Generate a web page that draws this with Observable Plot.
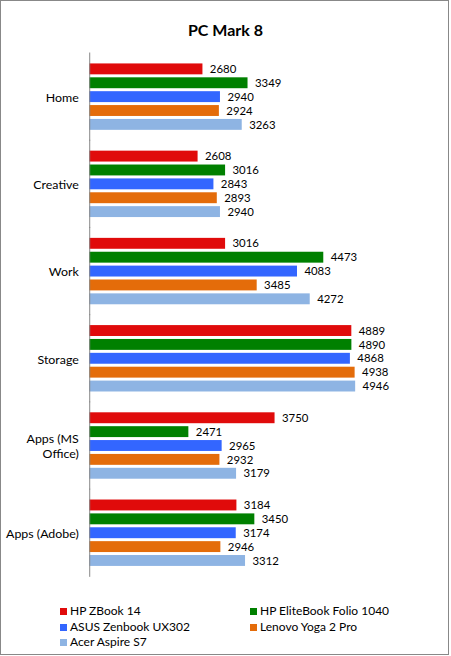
<!DOCTYPE html>
<html>
<head>
<meta charset="utf-8">
<script src="https://cdn.jsdelivr.net/npm/d3@7"></script>
<script src="https://cdn.jsdelivr.net/npm/@observablehq/plot@0.6"></script>
<style>
  html, body { margin: 0; padding: 0; background: #fff; }
  #frame { position: relative; width: 449px; height: 655px; border: 1px solid #888; box-sizing: border-box; font-family: Lato, "Open Sans", sans-serif; overflow: hidden; }
  #title { position: absolute; top: 19px; left: 0; width: 449px; text-align: center; font-weight: bold; font-size: 16px; color: #000; }
  #chart { position: absolute; top: -1px; left: 0px; }
  .leg { position: absolute; font-size: 12px; color: #000; line-height: 14px; white-space: nowrap; }
  .leg span.sw { display: inline-block; width: 7px; height: 7px; margin-right: 3px; vertical-align: 0px; }
</style>
</head>
<body>
<div id="frame">
  <div id="chart"></div>
  <div id="title">PC Mark 8</div>
  <div id="legend"></div>
</div>
<script>
const categories = ["Home", "Creative", "Work", "Storage", "Apps (MS Office)", "Apps (Adobe)"];
const series = ["HP ZBook 14", "HP EliteBook Folio 1040", "ASUS Zenbook UX302", "Lenovo Yoga 2 Pro", "Acer Aspire S7"];
const colors = ["#E00B0B", "#008000", "#3366FF", "#E46C0A", "#8EB4E3"];
const zbook14 = [2680, 2608, 3016, 4889, 3750, 3184];
const eliteBook = [3349, 3016, 4473, 4890, 2471, 3450];
const zenbook = [2940, 2843, 4083, 4868, 2965, 3174];
const yoga2Pro = [2924, 2893, 3485, 4938, 2932, 2946];
const aspireS7 = [3263, 2940, 4272, 4946, 3179, 3312];
const xDomain = [1000, 6000];

const seriesValues = [zbook14, eliteBook, zenbook, yoga2Pro, aspireS7];
const data = [];
categories.forEach((c, i) => {
  series.forEach((s, j) => {
    data.push({category: c, series: s, value: seriesValues[j][i]});
  });
});

const labelMap = {"Apps (MS Office)": "Apps (MS\nOffice)"};

const chart = Plot.plot({
  width: 451,
  height: 656,
  marginTop: 52,
  marginBottom: 73,
  marginLeft: 89,
  marginRight: 22,
  style: {fontFamily: "Lato, 'Open Sans', sans-serif", background: "transparent"},
  x: {domain: xDomain, axis: null},
  y: {domain: series, paddingInner: 0.21, paddingOuter: 0, axis: null},
  fy: {domain: categories, paddingInner: 0.19, paddingOuter: 0.095, label: null},
  color: {domain: series, range: colors},
  marks: [
    Plot.barX(data, {x1: xDomain[0], x2: "value", y: "series", fy: "category", fill: "series"}),
    Plot.text(data, {x: "value", y: "series", fy: "category", text: d => String(d.value), dx: 7, textAnchor: "start", fontSize: 11.5, fill: "#000"}),
    Plot.ruleX([xDomain[0]], {stroke: "#868686", strokeWidth: 1, insetTop: -9, insetBottom: -9}),
    Plot.axisFy({anchor: "left", tickSize: 0, tickPadding: 11, fontSize: 12.5, lineHeight: 1.2, label: null, tickFormat: d => labelMap[d] || d, fill: "#000"})
  ]
});
document.getElementById("chart").appendChild(chart);

const legendPos = [
  [59, 603], [249, 603],
  [59, 619], [249, 619],
  [59, 634]
];
const leg = document.getElementById("legend");
series.forEach((s, i) => {
  const d = document.createElement("div");
  d.className = "leg";
  d.style.left = legendPos[i][0] + "px";
  d.style.top = legendPos[i][1] + "px";
  d.innerHTML = `<span class="sw" style="background:${colors[i]}"></span>${s}`;
  leg.appendChild(d);
});
</script>
</body>
</html>
